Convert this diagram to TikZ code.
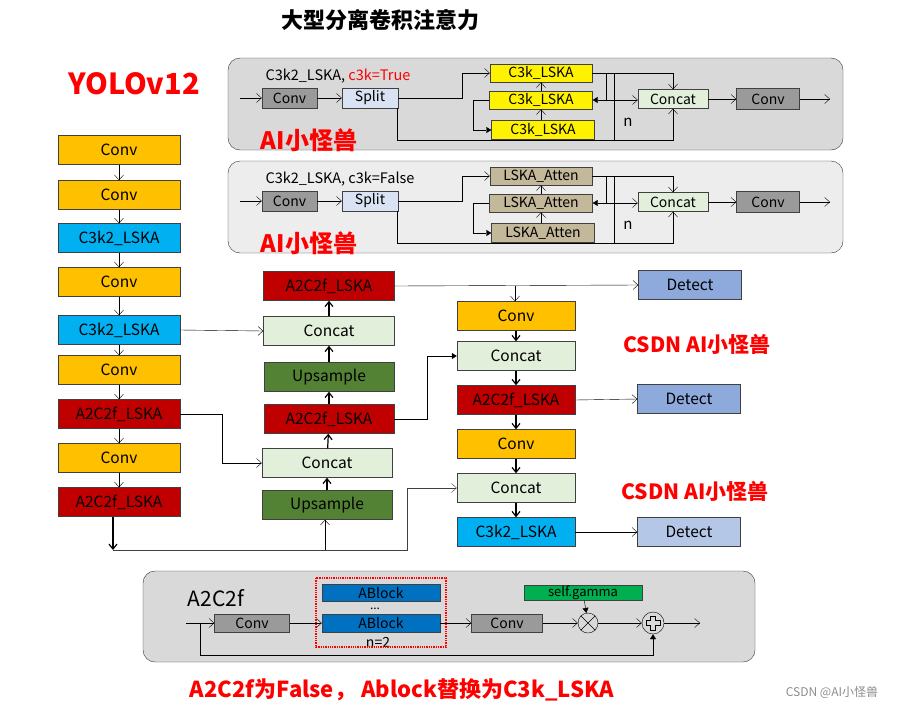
\documentclass[tikz,border=0pt]{standalone}
\usepackage{fontspec}
\setmainfont{Noto Sans CJK SC}
\usetikzlibrary{arrows.meta}
\definecolor{cconv}{HTML}{FFC000}
\definecolor{cc3}{HTML}{00B0F0}
\definecolor{ca2}{HTML}{C00000}
\definecolor{cup}{HTML}{548235}
\definecolor{ccat}{HTML}{E2EFDA}
\definecolor{cdet}{HTML}{8EA9DB}
\definecolor{cdet2}{HTML}{B4C7E7}
\definecolor{cgray}{HTML}{9A9A9A}
\definecolor{csplit}{HTML}{DAE3F3}
\definecolor{clska}{HTML}{C4B89A}
\definecolor{cab}{HTML}{0070C0}
\definecolor{cgam}{HTML}{00B050}
\definecolor{cred}{HTML}{FF0000}
\tikzset{
 bx/.style={draw=black!75, minimum height=29pt, inner sep=0pt, font=\fontsize{15.5}{17}\selectfont},
 sb/.style={draw=black!75, inner sep=0pt, font=\fontsize{14}{16}\selectfont},
 arr/.style={-{Straight Barb[length=5pt,width=9pt]}},
 tarr/.style={-{Straight Barb[length=5pt,width=8pt]}, line width=1.2pt},
 farr/.style={-{Triangle[length=5pt,width=6pt]}},
 panel/.style={draw=black!80, rounded corners=12pt},
 redt/.style={text=cred, font=\bfseries\fontsize{21}{24}\selectfont},
}
\newcommand\mypanel[6]{%
\begin{scope}[yshift=#1, name prefix=#2-]
 \draw[panel, fill=#6] (228,58) rectangle (843,150);
 \node[anchor=west, font=\fontsize{14.5}{16}\selectfont] at (262,76) {#3};
 \node[sb, fill=cgray, minimum width=55pt, minimum height=20pt] (conv) at (289.5,98) {Conv};
 \node[sb, fill=csplit, minimum width=56pt, minimum height=20pt] (split) at (370,98) {Split};
 \node[sb, fill=#5, minimum width=102pt, minimum height=18pt] (T) at (541,73) {#4};
 \node[sb, fill=#5, minimum width=103pt, minimum height=18pt] (M) at (541,100) {#4};
 \node[sb, fill=#5, minimum width=103pt, minimum height=19pt] (B) at (543,130) {#4};
 \node[sb, fill=ccat, minimum width=70pt, minimum height=19pt] (cat) at (673,99) {Concat};
 \node[sb, fill=cgray, minimum width=63pt, minimum height=21pt] (conv2) at (768,99) {Conv};
 \coordinate (in) at (240,98);
 \coordinate (out) at (830,99);
 \coordinate (s1) at (462,98);
 \coordinate (s2) at (397,140);
 \coordinate (j1) at (606,73);
 \coordinate (j2) at (606,100);
 \coordinate (k1) at (614,73);
 \coordinate (k2) at (614,140);
 \coordinate (l1) at (473,100);
 \draw[arr] (in) -- (conv);
 \draw[arr] (conv) -- (split);
 \draw[arr] (split.east) -- (s1) |- (T.west);
 \draw[arr] (split.south -| s2) -- (s2) -| (cat.south);
 \draw[arr] (T.east) -| (cat.north);
 \draw (j1) -- (j2);
 \draw (k1) -- (k2);
 \draw[farr] (j2) -- (M.east);
 \draw[arr] (j2) -- (cat.west |- j2);
 \draw[arr] (M.north) -- (T.south);
 \draw[arr] (B.north -| M) -- (M.south);
 \draw[farr] (M.west) -- (l1) |- (B.west);
 \draw[arr] (cat) -- (conv2);
 \draw[arr] (conv2.east) -- (out);
 \node[font=\fontsize{15}{16}\selectfont] (n) at (628,122) {n};
 \node[redt, font=\bfseries\fontsize{24}{26}\selectfont] (wm) at (309,140) {AI小怪兽};
\end{scope}}
\begin{document}
\begin{tikzpicture}[x=1pt,y=-1pt]
\useasboundingbox (0,0) rectangle (902,707);
\node[font=\bfseries\fontsize{22}{24}\selectfont] (title) at (380,20) {大型分离卷积注意力};
\node[text=cred, font=\bfseries\fontsize{29}{32}\selectfont] (yolo) at (134,84) {YOLOv12};

\mypanel{0pt}{p1}{C3k2\_LSKA, \textcolor{cred}{c3k=True}}{C3k\_LSKA}{yellow}{black!15}
\mypanel{-103pt}{p2}{C3k2\_LSKA, c3k=False}{LSKA\_Atten}{clska}{black!7}

% backbone
\foreach \n/\y/\c/\t in {b1/150/cconv/Conv, b2/195/cconv/Conv, b3/238/cc3/C3k2\_LSKA, b4/282/cconv/Conv, b5/330/cc3/C3k2\_LSKA, b6/370/cconv/Conv, b7/414/ca2/A2C2f\_LSKA, b8/458/cconv/Conv, b9/502/ca2/A2C2f\_LSKA}
  \node[bx, fill=\c, minimum width=122pt] (\n) at (119,\y) {\t};
\foreach \a/\b in {b1/b2, b2/b3, b3/b4, b4/b5, b5/b6, b6/b7, b7/b8, b8/b9}
  \draw[arr] (\a) -- (\b);

% middle
\node[bx, fill=ca2, minimum width=131pt] (m1) at (329,286) {A2C2f\_LSKA};
\node[bx, fill=ccat, minimum width=131pt] (m2) at (329,331) {Concat};
\node[bx, fill=cup, minimum width=130pt] (m3) at (329,377) {Upsample};
\node[bx, fill=ca2, minimum width=130pt] (m4) at (329,419) {A2C2f\_LSKA};
\node[bx, fill=ccat, minimum width=130pt] (m5) at (327,463) {Concat};
\node[bx, fill=cup, minimum width=130pt] (m6) at (327,505) {Upsample};
\draw[tarr] (m2) -- (m1);
\draw[tarr] (m3) -- (m2);
\draw[tarr] (m4) -- (m3);
\draw[tarr] (m5) -- (m4);
\draw[tarr] (m6) -- (m5);

% right
\node[bx, fill=cconv, minimum width=118pt] (r1) at (516,316) {Conv};
\node[bx, fill=ccat, minimum width=118pt] (r2) at (516,356) {Concat};
\node[bx, fill=ca2, minimum width=118pt] (r3) at (516,400) {A2C2f\_LSKA};
\node[bx, fill=cconv, minimum width=118pt] (r4) at (516,444) {Conv};
\node[bx, fill=ccat, minimum width=118pt] (r5) at (516,488) {Concat};
\node[bx, fill=cc3, minimum width=118pt] (r6) at (516,532) {C3k2\_LSKA};
\draw[tarr] (r1) -- (r2);
\draw[tarr] (r2) -- (r3);
\draw[tarr] (r3) -- (r4);
\draw[tarr] (r4) -- (r5);
\draw[tarr] (r5) -- (r6);

\node[bx, fill=cdet, minimum width=103pt] (d1) at (690,285) {Detect};
\node[bx, fill=cdet, minimum width=103pt] (d2) at (689,399) {Detect};
\node[bx, fill=cdet2, minimum width=103pt] (d3) at (689,532) {Detect};

\coordinate (bot) at (113,550);
\coordinate (bot2) at (407,550);
\coordinate (bup) at (325,550);
\coordinate (t1) at (222,414);
\coordinate (t2) at (427,419);
\coordinate (br) at (515,286);

\draw[tarr] (b9.south -| bot) -- (bot);
\draw[arr, draw=black!75] (bot) -- (bot2) |- (r5.west);
\draw[arr] (bup) -- (m6.south -| bup);
\draw[arr] (b5.east) -- (m2.west);
\draw[arr] (b7.east) -- (t1) |- (m5.west);
\draw[farr] (m4.east) -- (t2) |- (r2.west);
\draw[arr] (m1.east) -- (d1.west);
\draw[arr] (br) -- (r1.north -| br);
\draw[arr] (r3.east) -- (d2.west);
\draw[arr] (r6.east) -- (d3.west);

\node[redt] (cs1) at (697,344) {CSDN AI小怪兽};
\node[redt] (cs2) at (695,491) {CSDN AI小怪兽};

% A2C2f panel
\draw[panel, fill=black!15] (143,571) rectangle (755,662);
\node[font=\fontsize{21}{24}\selectfont] (at) at (216,598) {A2C2f};
\node[sb, fill=cgray, minimum width=75pt, minimum height=18pt] (c1) at (252,623) {Conv};
\node[sb, fill=cab, minimum width=118pt, minimum height=17pt] (ab1) at (381,593) {ABlock};
\node[sb, fill=cab, minimum width=118pt, minimum height=18pt] (ab2) at (381,623) {ABlock};
\node[font=\fontsize{12}{12}\selectfont, inner sep=0pt] (dots) at (375,609) {...};
\node[font=\fontsize{14}{15}\selectfont] (n2) at (378,642) {n=2};
\draw[cred, densely dotted, line width=1.3pt] (316,578) rectangle (446,647);
\node[sb, fill=cgray, minimum width=71pt, minimum height=18pt] (c2) at (507,623) {Conv};
\node[sb, fill=cgam, minimum width=118pt, minimum height=15pt, font=\fontsize{13}{14}\selectfont] (gam) at (583,593) {self.gamma};
\node[draw, circle, minimum size=20pt, inner sep=0pt] (mul) at (588,623) {};
\draw (mul.45) -- (mul.225) (mul.135) -- (mul.315);
\node[draw, circle, minimum size=22pt, inner sep=0pt] (pl) at (653,623) {};
\draw[line width=0.6pt] (646,620.5) -- (650.5,620.5) -- (650.5,616) -- (655.5,616) -- (655.5,620.5) -- (660,620.5) -- (660,625.5) -- (655.5,625.5) -- (655.5,630) -- (650.5,630) -- (650.5,625.5) -- (646,625.5) -- cycle;
\coordinate (ain) at (186,623);
\coordinate (sk1) at (200,623);
\coordinate (sk2) at (200,655);
\coordinate (aout) at (700,623);
\draw[arr] (ain) -- (c1);
\draw[arr] (c1) -- (ab2);
\draw[arr] (ab2) -- (c2);
\draw[arr] (c2) -- (mul);
\draw[farr] (gam) -- (mul);
\draw[arr] (mul) -- (pl);
\draw[arr] (pl) -- (aout);
\draw[farr] (sk1) -- (sk2) -| (pl.south);

\node[redt, font=\bfseries\fontsize{22}{24}\selectfont] (bt) at (402,690) {A2C2f为False， Ablock替换为C3k\_LSKA};
\node[text=black!45, font=\fontsize{12}{13}\selectfont] (wmk) at (832,692) {CSDN @AI小怪兽};
\end{tikzpicture}
\end{document}
